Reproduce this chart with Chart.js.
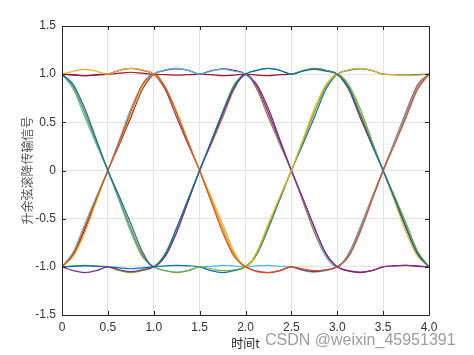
<!DOCTYPE html>
<html><head><meta charset="utf-8">
<script src="https://cdn.jsdelivr.net/npm/chart.js@4/dist/chart.umd.min.js"></script>
<style>html,body{margin:0;padding:0;background:#fff}#c{display:block}</style>
</head><body>
<canvas id="c" width="474" height="355"></canvas>
<script>
// time samples (s)
const t = [0,0.125,0.25,0.375,0.5,0.625,0.75,0.875,1,1.125,1.25,1.375,1.5,1.625,1.75,1.875,2,2.125,2.25,2.375,2.5,2.625,2.75,2.875,3,3.125,3.25,3.375,3.5,3.625,3.75,3.875,4];
const xTicks = [0,0.5,1,1.5,2,2.5,3,3.5,4];
const yTicks = [-1.5,-1,-0.5,0,0.5,1,1.5];
// traces of the eye diagram
const trA = [1,.89,.64,.32,0,-.27,-.55,-.84,-1, -.87,-.6,-.3,0,.3,.6,.87,1, 1.04,1.06,1.04,1,1.03,1.05,1.03,1, .86,.58,.28,0,-.29,-.59,-.86,-1];
const trB = [-1,-.86,-.58,-.29,0,.3,.61,.89,1, .86,.59,.29,0,-.32,-.64,-.89,-1, -1.05,-1.06,-1.04,-1,-1.02,-1.04,-1.03,-1, -.89,-.64,-.32,0,.27,.55,.84,1];
const trC = [1,1.03,1.05,1.03,1,1.04,1.06,1.045,1, .87,.61,.3,0,-.3,-.6,-.87,-1, -.84,-.55,-.27,0,.32,.64,.89,1, 1.045,1.06,1.04,1,.995,.985,.99,1];
const trD = [-1,-1.04,-1.06,-1.04,-1,-1.03,-1.05,-1.03,-1, -.89,-.64,-.32,0,.29,.58,.86,1, .87,.6,.3,0,-.29,-.59,-.86,-1, -1.04,-1.055,-1.04,-1,-.99,-.985,-.99,-1];
const trE = [1,.86,.59,.29,0,-.3,-.61,-.89,-1, -1.04,-1.06,-1.04,-1,-1.02,-1.04,-1.03,-1, -.86,-.58,-.28,0,.3,.6,.87,1, .89,.64,.32,0,-.27,-.55,-.84,-1];
const trF = [-1,-.84,-.55,-.27,0,.32,.64,.89,1, 1.045,1.06,1.04,1,1.03,1.05,1.03,1, .86,.58,.28,0,-.3,-.61,-.89,-1, -.87,-.6,-.3,0,.29,.59,.86,1];
const trG = [1,.995,.985,.995,1,1.01,1.02,1.01,1, .995,.99,.995,1,1.035,1.055,1.04,1, .89,.64,.32,0,-.29,-.59,-.86,-1, -1.045,-1.06,-1.04,-1,-.99,-.985,-.995,-1];
const trH = [-1,-.995,-.99,-.995,-1,-1.01,-1.02,-1.01,-1, -.99,-.985,-.99,-1,-1.04,-1.06,-1.04,-1, -.87,-.6,-.3,0,.27,.55,.84,1, 1.04,1.055,1.04,1,.995,.99,.995,1];
const trI = [1,.87,.6,.3,0,-.3,-.6,-.87,-1, -.89,-.64,-.32,0,.27,.55,.84,1, .84,.55,.27,0,-.32,-.64,-.89,-1, -.86,-.59,-.29,0,.3,.61,.89,1];
const trJ = [-1,-.89,-.64,-.32,0,.29,.58,.86,1, .87,.61,.3,0,-.27,-.55,-.84,-1, -.86,-.58,-.28,0,.3,.6,.87,1, .86,.59,.29,0,-.32,-.64,-.89,-1];
const trK = [1,.99,.985,.99,1,1.04,1.06,1.04,1, .84,.55,.27,0,-.3,-.6,-.87,-1, -1.045,-1.06,-1.04,-1,-1.035,-1.05,-1.035,-1, -.89,-.61,-.3,0,.29,.58,.86,1];
const trL = [-1,-.99,-.985,-.99,-1,-1.04,-1.06,-1.04,-1, -.86,-.59,-.29,0,.3,.61,.89,1, 1.04,1.06,1.04,1,1.04,1.055,1.04,1, .87,.6,.3,0,-.27,-.55,-.84,-1];
const trM = [1,.84,.55,.27,0,-.32,-.64,-.89,-1, -1.04,-1.055,-1.04,-1,-.995,-.985,-.99,-1, -.99,-.985,-.995,-1,-1.035,-1.055,-1.04,-1, -.87,-.6,-.3,0,.3,.6,.87,1];
const trN = [-1,-.87,-.61,-.3,0,.27,.55,.84,1, 1.04,1.055,1.04,1,.995,.985,.99,1, .99,.985,.995,1,1.035,1.06,1.04,1, .84,.55,.27,0,-.3,-.6,-.87,-1];
const traces = [trA,trB,trC,trD,trE,trF,trG,trH,trI,trJ,trK,trL,trM,trN];
const colors = ['#0072BD','#D95319','#EDB120','#7E2F8E','#77AC30','#4DBEEE','#A2142F'];
const xTitle = '时间t';
const yTitle = '升余弦滚降传输信号';
const watermark = 'CSDN @weixin_45951391';

const datasets = traces.map((tr,i)=>({
  data: tr.map((v,j)=>({x:t[j], y:v})),
  borderColor: colors[i%colors.length],
  borderWidth: 1.2,
  pointRadius: 0,
  fill: false,
  cubicInterpolationMode: 'monotone'
}));

const axisColor = '#333';
const boxPlugin = {
  id:'box',
  afterDatasetsDraw(chart){
    const {ctx, chartArea:a, scales:{x,y}} = chart;
    ctx.save();
    ctx.strokeStyle = '#262626';
    ctx.lineWidth = 1;
    ctx.beginPath();
    ctx.rect(Math.round(a.left)+0.5, Math.round(a.top)+0.5, Math.round(a.right-a.left), Math.round(a.bottom-a.top));
    ctx.stroke();
    ctx.beginPath();
    xTicks.forEach(v=>{
      const px = Math.round(x.getPixelForValue(v))+0.5;
      ctx.moveTo(px, a.bottom); ctx.lineTo(px, a.bottom-4);
      ctx.moveTo(px, a.top); ctx.lineTo(px, a.top+4);
    });
    yTicks.forEach(v=>{
      const py = Math.round(y.getPixelForValue(v))+0.5;
      ctx.moveTo(a.left, py); ctx.lineTo(a.left+4, py);
      ctx.moveTo(a.right, py); ctx.lineTo(a.right-4, py);
    });
    ctx.stroke();
    ctx.restore();
  },
  afterDraw(chart){
    const ctx = chart.ctx;
    ctx.save();
    ctx.font = '16px "Liberation Sans", Arial, sans-serif';
    ctx.fillStyle = 'rgba(140,140,140,0.85)';
    ctx.textBaseline = 'middle';
    ctx.fillText(watermark, 265, 341);
    ctx.restore();
  }
};

new Chart(document.getElementById('c'), {
  type:'line',
  data:{datasets},
  plugins:[boxPlugin],
  options:{
    responsive:false, animation:false, devicePixelRatio:1,
    layout:{padding:{left:0,right:45,top:26,bottom:0}},
    plugins:{legend:{display:false}, tooltip:{enabled:false}},
    scales:{
      x:{type:'linear', min:0, max:4,
        afterBuildTicks(s){ s.ticks = xTicks.map(v=>({value:v})); },
        ticks:{color:axisColor, font:{family:'"Liberation Sans", Arial, sans-serif', size:12}, padding:5, maxRotation:0, autoSkip:false},
        grid:{color:'#e3e3e3', drawTicks:false, lineWidth:1},
        border:{display:false},
        title:{display:true, text:xTitle, color:'#222', font:{family:'"Noto Sans CJK SC", sans-serif', size:12}, padding:{top:0,bottom:4}},
        afterFit(s){ s.height = 40; }
      },
      y:{type:'linear', min:-1.5, max:1.5,
        afterBuildTicks(s){ s.ticks = yTicks.map(v=>({value:v})); },
        ticks:{color:axisColor, font:{family:'"Liberation Sans", Arial, sans-serif', size:12}, padding:6, autoSkip:false},
        grid:{color:'#e3e3e3', drawTicks:false, lineWidth:1},
        border:{display:false},
        title:{display:true, text:yTitle, color:'#555', font:{family:'"Noto Sans CJK SC", sans-serif', size:12}, padding:{top:20,bottom:0}},
        afterFit(s){ s.width = 62; }
      }
    }
  }
});
</script>
</body></html>
